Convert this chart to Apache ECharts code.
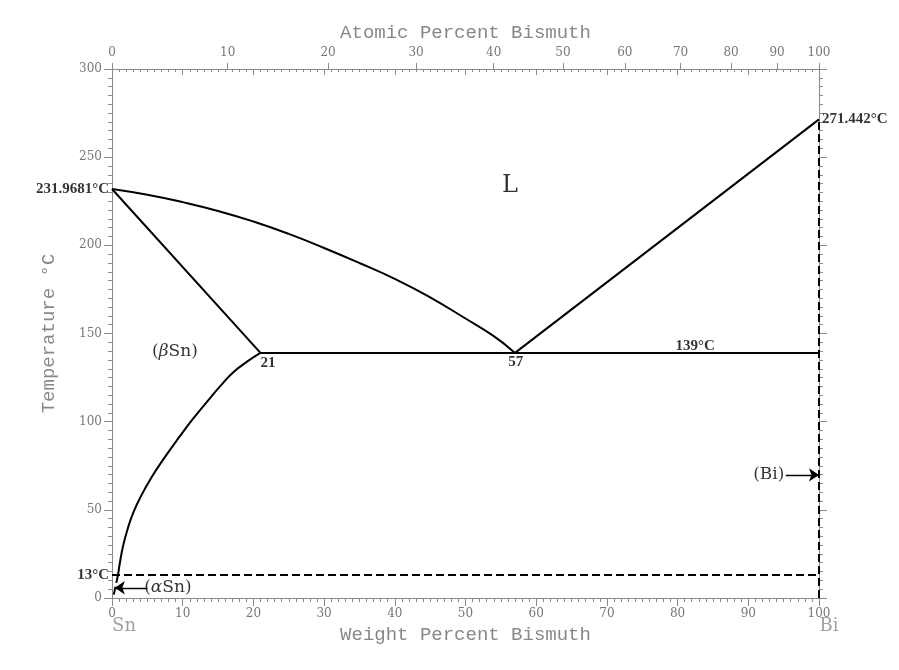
<!DOCTYPE html>
<html>
<head>
<meta charset="utf-8">
<script src="https://cdn.jsdelivr.net/npm/echarts@6/dist/echarts.min.js"></script>
<style>html,body{margin:0;padding:0;background:#fff}#c{width:899px;height:670px}</style>
</head>
<body>
<div id="c"></div>
<script>
// ---- data ----
const atomicTicks = [0, 10, 20, 30, 40, 50, 60, 70, 80, 90, 100];
const M_BI = 208.98, M_SN = 118.71;
const snLiquidus = [[0, 231.9681], [5, 228.7], [10, 224.5], [15, 219.5], [20, 213.5], [25, 206.5], [30, 198.5], [35, 190], [40, 181], [45, 170.5], [50, 158.5], [54, 148.5], [57, 139]];
const snSolidus = [[0, 231.9681], [21, 139]];
const snSolvus = [[21, 139], [19.2, 134.3], [17.2, 128.2], [15.5, 121], [13.9, 113.5], [11.5, 101.8], [9.5, 91.2], [7.5, 80], [5.6, 68.5], [4.0, 57], [3.0, 48.3], [2.2, 39], [1.6, 30], [1.2, 22], [0.85, 13]];
const snSolvusDashed = [[0.85, 13], [0.15, 0]];
const eutectic = [[21, 139], [100, 139]];
const biLiquidus = [[57, 139], [100, 271.442]];
const biSide = [[100, 0], [100, 271.442]];
const alphaLine = [[0, 13], [100, 13]];
const arrows = [
  { coords: [[5.0, 5.8], [0.4, 5.8]] },
  { coords: [[95.3, 69.8], [100, 69.8]] }
];
const boldLabels = [
  { value: [0, 231.9681], text: '231.9681°C', pos: 'left' },
  { value: [0, 13], text: '13°C', pos: 'left' },
  { value: [100, 271.442], text: '271.442°C', pos: 'right' },
  { value: [22.07, 133.4], text: '21', pos: 'inside' },
  { value: [57.1, 133.8], text: '57', pos: 'inside' },
  { value: [82.5, 142.9], text: '139°C', pos: 'inside' }
];
const phaseLabels = [
  { value: [56.3, 233.7], text: 'L', size: 24 },
  { value: [8.9, 139.5], text: '({i|β}Sn)', size: 17 },
  { value: [92.9, 69.8], text: '(Bi)', size: 17 },
  { value: [7.9, 5.7], text: '({i|α}Sn)', size: 17 }
];
const elementLabels = [
  { value: [1.7, -15.9], text: 'Sn' },
  { value: [101.4, -15.9], text: 'Bi' }
];

// atomic% -> weight% for the top scale
const atToWt = a => 100 * a * M_BI / (a * M_BI + (100 - a) * M_SN);
const topPos = atomicTicks.map(atToWt);

const AX = '#8a8a8a';
const tickFont = { fontFamily: 'DejaVu Serif', fontSize: 12, color: '#777' };
const nameFont = { fontFamily: 'Liberation Mono', fontSize: 19, color: '#888' };

const lineS = (data, dashed) => ({
  type: 'line', data, symbol: 'none', smooth: false, silent: true, z: 3,
  xAxisIndex: 0, yAxisIndex: 0,
  lineStyle: { color: '#000', width: 2, type: dashed ? [8, 4] : 'solid' }
});

const chart = echarts.init(document.getElementById('c'), null, { renderer: 'canvas' });
chart.setOption({
  backgroundColor: '#fff',
  animation: false,
  grid: { left: 112, right: 80, top: 69, bottom: 72, containLabel: false },
  xAxis: [
    {
      type: 'value', min: 0, max: 100, interval: 10, position: 'bottom',
      name: 'Weight Percent Bismuth', nameLocation: 'middle', nameGap: 27, nameTextStyle: nameFont,
      axisLine: { show: true, onZero: false, lineStyle: { color: AX } },
      axisTick: { show: true, length: 8, lineStyle: { color: AX } },
      minorTick: { show: true, splitNumber: 10, length: 4, lineStyle: { color: AX } },
      axisLabel: Object.assign({ margin: 10 }, tickFont),
      splitLine: { show: false }
    },
    {
      type: 'value', min: 0, max: 100, interval: 10, position: 'top',
      axisLine: { show: true, onZero: false, lineStyle: { color: AX } },
      axisTick: { show: true, inside: true, length: 6, lineStyle: { color: AX } },
      minorTick: { show: true, splitNumber: 10, length: 3, lineStyle: { color: AX } },
      axisLabel: { show: false },
      splitLine: { show: false }
    },
    {
      type: 'value', min: 0, max: 100, position: 'top',
      name: 'Atomic Percent Bismuth', nameLocation: 'middle', nameGap: 27, nameTextStyle: nameFont,
      axisLine: { show: true, onZero: false, lineStyle: { color: AX } },
      axisTick: { show: true, inside: false, length: 6, customValues: topPos, lineStyle: { color: AX } },
      axisLabel: Object.assign({
        margin: 10, customValues: topPos,
        formatter: v => {
          let best = 0, d = 1e9;
          topPos.forEach((p, i) => { if (Math.abs(p - v) < d) { d = Math.abs(p - v); best = i; } });
          return String(atomicTicks[best]);
        }
      }, tickFont),
      splitLine: { show: false }
    }
  ],
  yAxis: [
    {
      type: 'value', min: 0, max: 300, interval: 50, position: 'left',
      name: 'Temperature °C', nameLocation: 'middle', nameGap: 54, nameTextStyle: nameFont,
      axisLine: { show: true, onZero: false, lineStyle: { color: AX } },
      axisTick: { show: true, length: 8, lineStyle: { color: AX } },
      minorTick: { show: true, splitNumber: 10, length: 4, lineStyle: { color: AX } },
      axisLabel: Object.assign({ margin: 10 }, tickFont),
      splitLine: { show: false }
    },
    {
      type: 'value', min: 0, max: 300, interval: 50, position: 'right',
      axisLine: { show: true, onZero: false, lineStyle: { color: AX } },
      axisTick: { show: true, length: 8, lineStyle: { color: AX } },
      minorTick: { show: true, splitNumber: 10, length: 4, lineStyle: { color: AX } },
      axisLabel: { show: false },
      splitLine: { show: false }
    }
  ],
  series: [
    Object.assign(lineS(snLiquidus, false), { smooth: 0.5 }),
    lineS(snSolidus, false),
    Object.assign(lineS(snSolvus, false), { smooth: 0.5 }),
    lineS(snSolvusDashed, true),
    lineS(eutectic, false),
    lineS(biLiquidus, false),
    lineS(biSide, true),
    lineS(alphaLine, true),
    {
      type: 'lines', coordinateSystem: 'cartesian2d', xAxisIndex: 0, yAxisIndex: 0,
      symbol: ['none', 'arrow'], symbolSize: [0, 10], silent: true, z: 4,
      lineStyle: { color: '#000', width: 1.3, opacity: 1, curveness: 0 },
      data: arrows
    },
    {
      type: 'scatter', xAxisIndex: 0, yAxisIndex: 0, symbolSize: 0, clip: false, silent: true, z: 5,
      data: boldLabels.map(d => ({
        value: d.value,
        label: {
          show: true, position: d.pos, distance: 3, formatter: d.text,
          fontFamily: 'Liberation Serif', fontWeight: 'bold', fontSize: 15, color: '#000'
        }
      }))
    },
    {
      type: 'scatter', xAxisIndex: 0, yAxisIndex: 0, symbolSize: 0, clip: false, silent: true, z: 5,
      data: phaseLabels.map(d => ({
        value: d.value,
        label: {
          show: true, position: 'inside', formatter: d.text,
          fontFamily: 'DejaVu Serif', fontSize: d.size, color: '#000',
          rich: { i: { fontFamily: 'DejaVu Serif', fontStyle: 'italic', fontSize: d.size, color: '#000' } }
        }
      }))
    },
    {
      type: 'scatter', xAxisIndex: 0, yAxisIndex: 0, symbolSize: 0, clip: false, silent: true, z: 5,
      data: elementLabels.map(d => ({
        value: d.value,
        label: {
          show: true, position: 'inside', formatter: d.text,
          fontFamily: 'DejaVu Serif', fontSize: 18, color: '#888'
        }
      }))
    }
  ]
});
</script>
</body>
</html>
